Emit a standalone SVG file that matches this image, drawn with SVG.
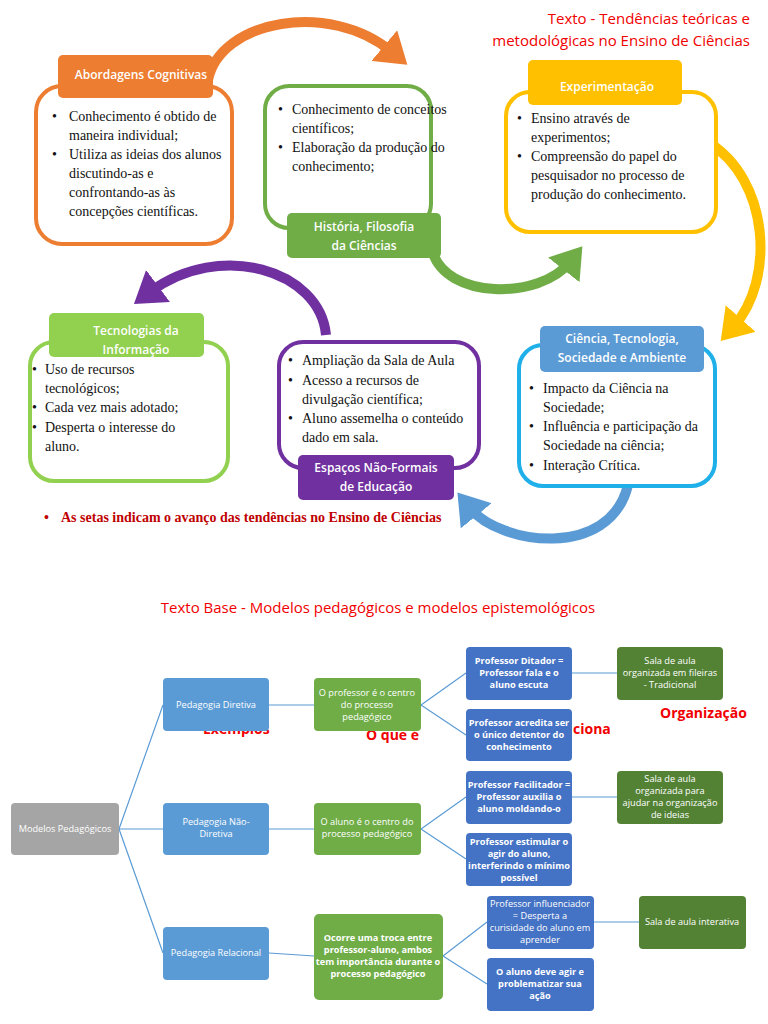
<svg xmlns="http://www.w3.org/2000/svg" width="768" height="1024" viewBox="0 0 768 1024">
<defs>
<style>
.t{font-family:"Liberation Serif",serif;font-size:14px;fill:#111}
.h{font-family:"Open Sans","Noto Sans",sans-serif;font-size:12px;font-weight:600;fill:#fff;text-anchor:middle}
.red{font-family:"Open Sans","Noto Sans",sans-serif;fill:#f00000}
.n{font-family:"Open Sans","Noto Sans",sans-serif;font-size:9.2px;fill:#fff;text-anchor:middle}
.nb{font-weight:bold}
.arc{fill:none;stroke-width:10}
.ln{fill:none;stroke:#5B9BD5;stroke-width:1.2}
</style>
<marker id="mo" markerWidth="4" markerHeight="4" refX="1" refY="2" orient="auto" markerUnits="strokeWidth"><path d="M0,0L3,2L0,4Z" fill="#ED7D31"/></marker>
<marker id="mg" markerWidth="4" markerHeight="4" refX="1" refY="2" orient="auto" markerUnits="strokeWidth"><path d="M0,0L3,2L0,4Z" fill="#70AD47"/></marker>
<marker id="my" markerWidth="4" markerHeight="4" refX="1" refY="2" orient="auto" markerUnits="strokeWidth"><path d="M0,0L3,2L0,4Z" fill="#FFC000"/></marker>
<marker id="mb" markerWidth="4" markerHeight="4" refX="1" refY="2" orient="auto" markerUnits="strokeWidth"><path d="M0,0L3,2L0,4Z" fill="#5B9BD5"/></marker>
<marker id="mp" markerWidth="4" markerHeight="4" refX="1" refY="2" orient="auto" markerUnits="strokeWidth"><path d="M0,0L3,2L0,4Z" fill="#7030A0"/></marker>
</defs>
<rect width="768" height="1024" fill="#fff"/>

<text class="red" font-size="15" text-anchor="end" x="750" y="24">Texto - Tendências teóricas e</text>
<text class="red" font-size="15" text-anchor="end" x="750" y="46">metodológicas no Ensino de Ciências</text>

<g id="connectors-top">
<path class="arc" stroke="#ED7D31" d="M208,80 C220,20 330,0 392,52" marker-end="url(#mo)"/>
<path class="arc" stroke="#70AD47" d="M432,250 C445,300 540,300 570,262" marker-end="url(#mg)"/>
<path class="arc" stroke="#FFC000" d="M708,142 C770,180 775,280 734,326" marker-end="url(#my)"/>
<path class="arc" stroke="#5B9BD5" d="M628,485 C610,560 500,545 470,508" marker-end="url(#mb)"/>
<path class="arc" stroke="#7030A0" d="M326,335 C320,270 220,240 150,292" marker-end="url(#mp)"/>
</g>

<g id="abordagens">
<rect x="36" y="86" width="196" height="158" rx="26" fill="#fff" stroke="#ED7D31" stroke-width="4"/>
<rect x="58" y="55" width="155" height="43" rx="5" fill="#ED7D31"/>
<text class="h" x="141" y="79">Abordagens Cognitivas</text>
<text class="t"><tspan x="52" y="121">•</tspan><tspan x="69" y="121">Conhecimento é obtido de</tspan><tspan x="69" y="140">maneira individual;</tspan><tspan x="52" y="159">•</tspan><tspan x="69" y="159">Utiliza as ideias dos alunos</tspan><tspan x="69" y="178">discutindo-as e</tspan><tspan x="69" y="197">confrontando-as às</tspan><tspan x="69" y="216">concepções científicas.</tspan></text>
</g>

<g id="historia">
<rect x="265" y="86" width="166" height="142" rx="24" fill="#fff" stroke="#70AD47" stroke-width="4"/>
<rect x="287" y="213" width="154" height="45" rx="5" fill="#70AD47"/>
<text class="h" x="364" y="231">História, Filosofia</text>
<text class="h" x="364" y="250">da Ciências</text>
<text class="t"><tspan x="278" y="114">•</tspan><tspan x="292" y="114">Conhecimento de conceitos</tspan><tspan x="292" y="133">científicos;</tspan><tspan x="278" y="152">•</tspan><tspan x="292" y="152">Elaboração da produção do</tspan><tspan x="292" y="171">conhecimento;</tspan></text>
</g>

<g id="experimentacao">
<rect x="506" y="92" width="210" height="140" rx="24" fill="#fff" stroke="#FFC000" stroke-width="4"/>
<rect x="528" y="60" width="154" height="45" rx="5" fill="#FFC000"/>
<text class="h" x="607" y="91">Experimentação</text>
<text class="t"><tspan x="517" y="123">•</tspan><tspan x="531" y="123">Ensino através de</tspan><tspan x="531" y="142">experimentos;</tspan><tspan x="517" y="161">•</tspan><tspan x="531" y="161">Compreensão do papel do</tspan><tspan x="531" y="180">pesquisador no processo de</tspan><tspan x="531" y="199">produção do conhecimento.</tspan></text>
</g>

<g id="cts">
<rect x="519" y="345" width="196" height="141" rx="24" fill="#fff" stroke="#1FB0EA" stroke-width="4"/>
<rect x="540" y="326" width="164" height="46" rx="5" fill="#5B9BD5"/>
<text class="h" x="622" y="343">Ciência, Tecnologia,</text>
<text class="h" x="622" y="362">Sociedade e Ambiente</text>
<text class="t"><tspan x="529" y="393">•</tspan><tspan x="543" y="393">Impacto da Ciência na</tspan><tspan x="543" y="412">Sociedade;</tspan><tspan x="529" y="431">•</tspan><tspan x="543" y="431">Influência e participação da</tspan><tspan x="543" y="450">Sociedade na ciência;</tspan><tspan x="529" y="470">•</tspan><tspan x="543" y="470">Interação Crítica.</tspan></text>
</g>

<g id="espacos">
<rect x="279" y="342" width="200" height="126" rx="24" fill="#fff" stroke="#7030A0" stroke-width="4"/>
<rect x="298" y="455" width="156" height="45" rx="5" fill="#7030A0"/>
<text class="h" x="376" y="472">Espaços Não-Formais</text>
<text class="h" x="376" y="491">de Educação</text>
<text class="t"><tspan x="288" y="365">•</tspan><tspan x="302" y="365">Ampliação da Sala de Aula</tspan><tspan x="288" y="385">•</tspan><tspan x="302" y="385">Acesso a recursos de</tspan><tspan x="302" y="404">divulgação científica;</tspan><tspan x="288" y="423">•</tspan><tspan x="302" y="423">Aluno assemelha o conteúdo</tspan><tspan x="302" y="442">dado em sala.</tspan></text>
</g>

<g id="tecnologias">
<rect x="30" y="342" width="198" height="139" rx="24" fill="#fff" stroke="#92D050" stroke-width="4"/>
<rect x="49" y="313" width="155" height="44" rx="5" fill="#92D050"/>
<text class="h" x="136" y="335">Tecnologias da</text>
<text class="h" x="136" y="354">Informação</text>
<text class="t"><tspan x="32" y="374">•</tspan><tspan x="45" y="374">Uso de recursos</tspan><tspan x="45" y="393">tecnológicos;</tspan><tspan x="32" y="412">•</tspan><tspan x="45" y="412">Cada vez mais adotado;</tspan><tspan x="32" y="432">•</tspan><tspan x="45" y="432">Desperta o interesse do</tspan><tspan x="45" y="451">aluno.</tspan></text>
</g>

<text font-family="Liberation Serif,serif" font-size="14" font-weight="bold" fill="#C00000"><tspan x="44" y="522">•</tspan><tspan x="61" y="522">As setas indicam o avanço das tendências no Ensino de Ciências</tspan></text>

<text class="red" font-size="15" text-anchor="middle" x="378" y="613">Texto Base - Modelos pedagógicos e modelos epistemológicos</text>

<text class="red" font-size="14" font-weight="bold" x="203" y="734">Exemplos</text>
<text class="red" font-size="14" font-weight="bold" x="366" y="740">O que é</text>
<text class="red" font-size="14" font-weight="bold" x="573" y="734">ciona</text>
<text class="red" font-size="14" font-weight="bold" x="660" y="718">Organização</text>

<g id="connectors">
<path class="ln" stroke="#8FB4E3" d="M119,829L163,705M119,829L163,829M119,829L163,953"/>
<path class="ln" stroke="#70AD47" d="M269,705H314M269,829H314M269,953L314,956"/>
<path class="ln" stroke="#4472C4" d="M421,705L466,673M421,705L466,735M421,829L466,797M421,829L466,859M443,956L487,922M443,956L487,984M572,673H617M572,797H617M594,922H639"/>
</g>

<g id="modelos"><rect x="11" y="803" width="108" height="52" rx="4" fill="#A5A5A5"/><text class="n" x="65" y="832">Modelos Pedagógicos</text></g>
<g id="diretiva"><rect x="163" y="678" width="106" height="53" rx="4" fill="#5B9BD5"/><text class="n" x="216" y="708">Pedagogia Diretiva</text></g>
<g id="naodiretiva"><rect x="163" y="803" width="106" height="52" rx="4" fill="#5B9BD5"/><text class="n" x="216" y="825">Pedagogia Não-</text><text class="n" x="216" y="837">Diretiva</text></g>
<g id="relacional"><rect x="163" y="927" width="106" height="53" rx="4" fill="#5B9BD5"/><text class="n" x="216" y="956">Pedagogia Relacional</text></g>

<g id="centro-prof"><rect x="314" y="678" width="107" height="53" rx="4" fill="#70AD47"/><text class="n" x="367" y="696">O professor é o centro</text><text class="n" x="367" y="708">do processo</text><text class="n" x="367" y="720">pedagógico</text></g>
<g id="centro-aluno"><rect x="314" y="803" width="107" height="52" rx="4" fill="#70AD47"/><text class="n" x="367" y="825">O aluno é o centro do</text><text class="n" x="367" y="837">processo pedagógico</text></g>
<g id="troca"><rect x="314" y="914" width="129" height="86" rx="5" fill="#70AD47"/><text class="n nb" x="378" y="941">Ocorre uma troca entre</text><text class="n nb" x="378" y="953">professor-aluno, ambos</text><text class="n nb" x="378" y="965">tem importância durante o</text><text class="n nb" x="378" y="977">processo pedagógico</text></g>

<g id="ditador"><rect x="466" y="647" width="106" height="53" rx="4" fill="#4472C4"/><text class="n nb" x="519" y="664">Professor Ditador =</text><text class="n nb" x="519" y="676">Professor fala e o</text><text class="n nb" x="519" y="688">aluno escuta</text></g>
<g id="detentor"><rect x="466" y="709" width="106" height="52" rx="4" fill="#4472C4"/><text class="n nb" x="519" y="726">Professor acredita ser</text><text class="n nb" x="519" y="738">o único detentor do</text><text class="n nb" x="519" y="750">conhecimento</text></g>
<g id="facilitador"><rect x="466" y="771" width="106" height="53" rx="4" fill="#4472C4"/><text class="n nb" x="519" y="788">Professor Facilitador =</text><text class="n nb" x="519" y="800">Professor auxilia o</text><text class="n nb" x="519" y="812">aluno moldando-o</text></g>
<g id="estimular"><rect x="466" y="833" width="106" height="53" rx="4" fill="#4472C4"/><text class="n nb" x="519" y="845">Professor estimular o</text><text class="n nb" x="519" y="857">agir do aluno,</text><text class="n nb" x="519" y="869">interferindo o mínimo</text><text class="n nb" x="519" y="881">possível</text></g>
<g id="influenciador"><rect x="487" y="896" width="107" height="53" rx="4" fill="#4472C4"/><text class="n" x="540" y="907">Professor influenciador</text><text class="n" x="540" y="919">= Desperta a</text><text class="n" x="540" y="931">curisidade do aluno em</text><text class="n" x="540" y="943">aprender</text></g>
<g id="agir"><rect x="487" y="958" width="107" height="53" rx="4" fill="#4472C4"/><text class="n nb" x="540" y="975">O aluno deve agir e</text><text class="n nb" x="540" y="987">problematizar sua</text><text class="n nb" x="540" y="999">ação</text></g>

<g id="fileiras"><rect x="617" y="647" width="106" height="53" rx="4" fill="#548235"/><text class="n" x="670" y="664">Sala de aula</text><text class="n" x="670" y="676">organizada em fileiras</text><text class="n" x="670" y="688">- Tradicional</text></g>
<g id="ideias"><rect x="617" y="771" width="106" height="53" rx="4" fill="#548235"/><text class="n" x="670" y="782">Sala de aula</text><text class="n" x="670" y="794">organizada para</text><text class="n" x="670" y="806">ajudar na organização</text><text class="n" x="670" y="818">de ideias</text></g>
<g id="interativa"><rect x="639" y="896" width="107" height="53" rx="4" fill="#548235"/><text class="n" x="692" y="925">Sala de aula interativa</text></g>
</svg>
